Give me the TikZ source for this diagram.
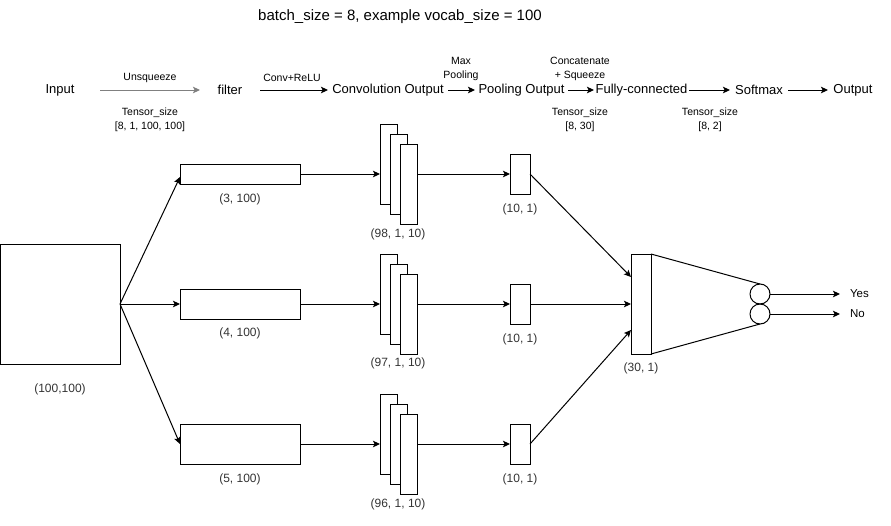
\documentclass[tikz,border=0pt]{standalone}
\usepackage{fontspec}
\setmainfont{Liberation Sans}
\usetikzlibrary{arrows.meta,calc}
\definecolor{lbl}{HTML}{333333}
\begin{document}
\begin{tikzpicture}[x=1pt,y=-1pt,
  every node/.style={inner sep=0pt, outer sep=0pt},
  lw/.style={line width=1pt},
  arr/.style={lw, -{Stealth[length=7pt,width=6.5pt,inset=1.5pt]}},
  rowtxt/.style={font=\fontsize{13}{15}\selectfont, minimum height=16pt},
  smalltxt/.style={font=\fontsize{10.5}{14}\selectfont, align=center},
  shapelbl/.style={font=\fontsize{12}{14}\selectfont, text=lbl},
  box/.style={draw, lw, fill=white},
  stackbox/.style={box, minimum width=17pt, minimum height=80pt},
  poolbox/.style={box, minimum width=20pt, minimum height=40pt},
  unit/.style={draw, lw, circle, minimum size=20pt}]
\useasboundingbox (0,0) rectangle (891,525);

% title
\node[font=\fontsize{15}{17}\selectfont] (title) at (400,17) {batch\_size = 8, example vocab\_size = 100};

% top row
\node[rowtxt, minimum width=80pt] (input) at (60,90) {Input};
\node[rowtxt, minimum width=60pt] (filter) at (230,90) {filter};
\node[rowtxt, minimum width=120pt] (conv) at (388,90) {Convolution Output};
\node[rowtxt, minimum width=93pt] (pool) at (521.5,90) {Pooling Output};
\node[rowtxt, minimum width=95pt] (fc) at (641.5,90) {Fully-connected};
\node[rowtxt, minimum width=58pt] (soft) at (759,90) {Softmax};
\node[rowtxt, minimum width=50pt] (out) at (853,90) {Output};

\draw[arr, gray] (input) -- (filter);
\draw[arr] (filter) -- (conv);
\draw[arr] (conv) -- (pool);
\draw[arr] (pool) -- (fc);
\draw[arr] (fc) -- (soft);
\draw[arr] (soft) -- (out);

\node[smalltxt] (l1) at (150,78) {Unsqueeze};
\node[smalltxt] (l2) at (292,78) {Conv+ReLU};
\node[smalltxt] (l3) at (461,69) {Max\\Pooling};
\node[smalltxt] (l4) at (580,69) {Concatenate\\+ Squeeze};
\node[smalltxt] (t1) at (150,120) {Tensor\_size\\{}[8, 1, 100, 100]};
\node[smalltxt] (t2) at (580,120) {Tensor\_size\\{}[8, 30]};
\node[smalltxt] (t3) at (710,120) {Tensor\_size\\{}[8, 2]};

% input matrix
\node[box, minimum width=120pt, minimum height=120pt] (sq) at (60,304) {};
\node[shapelbl] (sqlbl) at (60,389) {(100,100)};

% filters
\node[box, minimum width=120pt, minimum height=20pt] (r3) at (240,174) {};
\node[box, minimum width=120pt, minimum height=30pt] (r4) at (240,304) {};
\node[box, minimum width=120pt, minimum height=40pt] (r5) at (240,444) {};
\node[shapelbl] (r3l) at (240,199) {(3, 100)};
\node[shapelbl] (r4l) at (240,333) {(4, 100)};
\node[shapelbl] (r5l) at (240,479) {(5, 100)};

\draw[arr] (sq.east) -- ($(r3.west)+(0,3)$);
\draw[arr] (sq.east) -- (r4.west);
\draw[arr] (sq.east) -- (r5.west);

% convolution stacks
\foreach \n/\y in {a/164, b/294, c/434}{
  \node[stackbox] (s\n1) at (388.5,\y) {};
  \node[stackbox] (s\n2) at (398.5,\y+10) {};
  \node[stackbox] (s\n3) at (408.5,\y+20) {};
}
\node[shapelbl] (sal) at (398,234) {(98, 1, 10)};
\node[shapelbl] (sbl) at (398,363) {(97, 1, 10)};
\node[shapelbl] (scl) at (398,504) {(96, 1, 10)};

\draw[arr] (r3.east) -- (r3.east -| sa1.west);
\draw[arr] (r4.east) -- (r4.east -| sb1.west);
\draw[arr] (r5.east) -- (r5.east -| sc1.west);

% pooling outputs
\node[poolbox] (p1) at (520,174) {};
\node[poolbox] (p2) at (520,304) {};
\node[poolbox] (p3) at (520,444) {};
\node[shapelbl] (p1l) at (520,209) {(10, 1)};
\node[shapelbl] (p2l) at (520,339) {(10, 1)};
\node[shapelbl] (p3l) at (520,479) {(10, 1)};

\draw[arr] (sa3.east |- p1) -- (p1.west);
\draw[arr] (sb3.east |- p2) -- (p2.west);
\draw[arr] (sc3.east |- p3) -- (p3.west);

% fully connected
\node[box, minimum width=20pt, minimum height=100pt] (fcb) at (641,304) {};
\node[shapelbl] (fcl) at (641,368) {(30, 1)};
\draw[arr] (p1.east) -- ($(fcb.west)+(0,-27)$);
\draw[arr] (p2.east) -- (fcb.west);
\draw[arr] (p3.east) -- ($(fcb.west)+(0,26)$);

% softmax units
\node[unit] (cy) at (760,294) {};
\node[unit] (cn) at (760,314) {};
\draw[lw] (fcb.north east) -- (cy.north);
\draw[lw] (fcb.south east) -- (cn.south);

\node[font=\fontsize{11.5}{14}\selectfont, anchor=west] (yes) at (850,294) {Yes};
\node[font=\fontsize{11.5}{14}\selectfont, anchor=west] (no) at (850,314) {No};
\draw[arr, shorten >=10pt] (cy) -- (yes);
\draw[arr, shorten >=10pt] (cn) -- (no);
\end{tikzpicture}
\end{document}
